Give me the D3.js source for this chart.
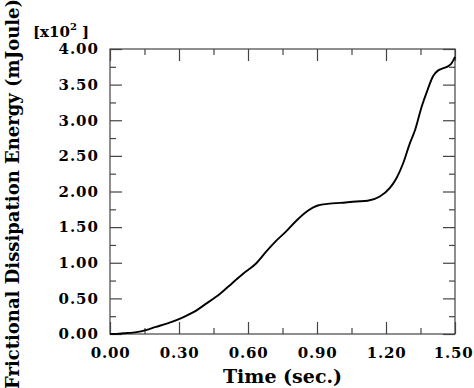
<!DOCTYPE html>
<html>
<head>
<meta charset="utf-8">
<script src="https://cdn.jsdelivr.net/npm/d3@7"></script>
<style>
  body { margin: 0; background: #fff; }
  svg text { font-family: "DejaVu Serif", serif; font-weight: bold; fill: #000; }
</style>
</head>
<body>
<svg id="chart"></svg>
<script>
// values
const time_s = [0, 0.03, 0.06, 0.10, 0.14, 0.20, 0.25, 0.30, 0.365, 0.42, 0.48, 0.53, 0.58, 0.635, 0.68, 0.72, 0.766, 0.81, 0.86, 0.90, 0.955, 1.00, 1.07, 1.12, 1.173, 1.217, 1.246, 1.275, 1.304, 1.326, 1.355, 1.38, 1.405, 1.427, 1.45, 1.471, 1.485, 1.50]
const energy = [0, 0.002, 0.01, 0.02, 0.04, 0.10, 0.15, 0.21, 0.31, 0.43, 0.57, 0.71, 0.85, 0.99, 1.16, 1.30, 1.44, 1.59, 1.73, 1.80, 1.83, 1.84, 1.86, 1.87, 1.93, 2.05, 2.19, 2.40, 2.68, 2.86, 3.19, 3.42, 3.62, 3.70, 3.73, 3.76, 3.80, 3.89]
const xMajor = [0, 0.3, 0.6, 0.9, 1.2, 1.5]
const xMinor = [0.15, 0.45, 0.75, 1.05, 1.35]
const yMajor = [0, 0.5, 1.0, 1.5, 2.0, 2.5, 3.0, 3.5, 4.0]
const yMinor = [0.25, 0.75, 1.25, 1.75, 2.25, 2.75, 3.25, 3.75]

width = 474
height = 388
marginLeft = 110
marginRight = 19
marginTop = 49
marginBottom = 54

const svg = d3.select('#chart')
              .attr('width', width)
              .attr('height', height)
              .attr('viewBox', [0, 0, width, height])

const xScale = d3.scaleLinear([0, 1.5], [marginLeft, width - marginRight])
const yScale = d3.scaleLinear([0, 4], [height - marginBottom, marginTop])

const fmt = d3.format('.2f')
const bottom = height - marginBottom
const right = width - marginRight

function styleAxis(g) {
    g.select('.domain').remove()
    g.selectAll('.tick line').attr('stroke', '#444').attr('stroke-width', 1.2)
}

// major ticks with labels
svg.append('g')
   .attr('transform', `translate(0,${bottom})`)
   .call(d3.axisBottom(xScale).tickValues(xMajor).tickFormat(fmt).tickSize(-12).tickPadding(13))
   .call(styleAxis)
   .call(g => g.selectAll('text').attr('font-size', 15).attr('letter-spacing', 0.8))
   .call(g => g.selectAll('.tick:last-of-type text').attr('dx', -2))
svg.append('g')
   .attr('transform', `translate(${marginLeft},0)`)
   .call(d3.axisLeft(yScale).tickValues(yMajor).tickFormat(fmt).tickSize(-12).tickPadding(11))
   .call(styleAxis)
   .call(g => g.selectAll('text').attr('font-size', 15).attr('letter-spacing', 1))

// ticks without labels
const bare = [
    [d3.axisBottom(xScale).tickValues(xMinor).tickSize(-6), `translate(0,${bottom})`],
    [d3.axisTop(xScale).tickValues(xMajor).tickSize(-12), `translate(0,${marginTop})`],
    [d3.axisTop(xScale).tickValues(xMinor).tickSize(-6), `translate(0,${marginTop})`],
    [d3.axisLeft(yScale).tickValues(yMinor).tickSize(-6), `translate(${marginLeft},0)`],
    [d3.axisRight(yScale).tickValues(yMajor).tickSize(-12), `translate(${right},0)`],
    [d3.axisRight(yScale).tickValues(yMinor).tickSize(-6), `translate(${right},0)`],
]
bare.forEach(([ax, tr]) => {
    svg.append('g').attr('transform', tr)
       .call(ax.tickFormat(''))
       .call(styleAxis)
})

// frame
svg.append('rect')
   .attr('x', marginLeft)
   .attr('y', marginTop)
   .attr('width', right - marginLeft)
   .attr('height', bottom - marginTop)
   .attr('fill', 'none')
   .attr('stroke', '#444')
   .attr('stroke-width', 1.2)

// the curve
const line = d3.line()
               .curve(d3.curveMonotoneX)
               .x(i => xScale(time_s[i]))
               .y(i => yScale(energy[i]))
svg.append('path')
   .attr('fill', 'none')
   .attr('stroke', '#000')
   .attr('stroke-width', 1.9)
   .attr('stroke-linejoin', 'round')
   .attr('d', line(d3.range(time_s.length)))

// titles
svg.append('text')
   .attr('x', (marginLeft + right) / 2)
   .attr('y', 383)
   .attr('text-anchor', 'middle')
   .attr('font-size', 19)
   .text('Time (sec.)')

svg.append('text')
   .attr('transform', `translate(19,${height / 2}) rotate(-90)`)
   .attr('text-anchor', 'middle')
   .attr('font-size', 18)
   .text('Frictional Dissipation Energy (mJoule)')

const mult = svg.append('text')
   .attr('x', 33)
   .attr('y', 37)
   .attr('font-size', 15)
mult.append('tspan').text('[x10')
mult.append('tspan').attr('font-size', 10).attr('dy', -7).text('2')
mult.append('tspan').attr('dy', 7).text('\u00a0]')
</script>
</body>
</html>
